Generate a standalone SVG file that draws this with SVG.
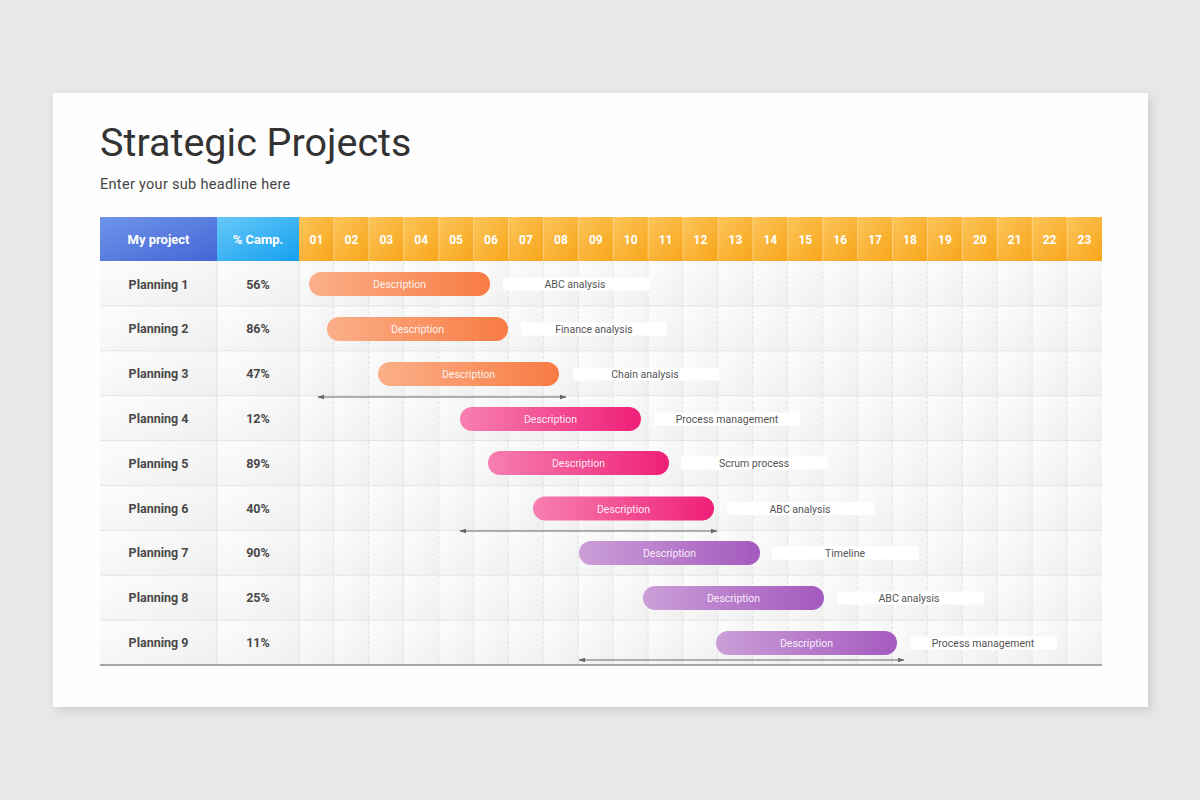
<svg xmlns="http://www.w3.org/2000/svg" width="1200" height="800" viewBox="0 0 1200 800">
<defs>
<linearGradient id="gOr" x1="0" y1="0" x2="1" y2="0"><stop offset="0" stop-color="#fbaf89"/><stop offset="1" stop-color="#f87b43"/></linearGradient>
<linearGradient id="gPk" x1="0" y1="0" x2="1" y2="0"><stop offset="0" stop-color="#f77fb1"/><stop offset="1" stop-color="#ef1f78"/></linearGradient>
<linearGradient id="gPu" x1="0" y1="0" x2="1" y2="0"><stop offset="0" stop-color="#cc9fd8"/><stop offset="1" stop-color="#a459be"/></linearGradient>
<linearGradient id="gBlue" x1="0" y1="0" x2="1" y2="1"><stop offset="0" stop-color="#6f94ea"/><stop offset="1" stop-color="#4466d6"/></linearGradient>
<linearGradient id="gCyan" x1="0" y1="0" x2="1" y2="1"><stop offset="0" stop-color="#66c8f8"/><stop offset="1" stop-color="#15a0ef"/></linearGradient>
<linearGradient id="gDay" x1="0" y1="0" x2="1" y2="1"><stop offset="0" stop-color="#fcc55a"/><stop offset="1" stop-color="#f8a51a"/></linearGradient>
<linearGradient id="gCell" x1="0" y1="0" x2="1" y2="1"><stop offset="0" stop-color="#fdfdfd"/><stop offset="1" stop-color="#efefef"/></linearGradient>
<pattern id="pDay" patternUnits="userSpaceOnUse" x="299" y="217" width="34.913" height="44">
<rect width="34.913" height="44" fill="url(#gDay)"/>
</pattern>
<pattern id="pCell" patternUnits="userSpaceOnUse" x="299" y="261" width="34.913" height="44.889">
<rect width="34.913" height="44.889" fill="url(#gCell)"/>
</pattern>
<pattern id="pLeft1" patternUnits="userSpaceOnUse" x="100" y="261" width="117" height="44.889">
<rect width="117" height="44.889" fill="url(#gCell)"/>
</pattern>
<pattern id="pLeft2" patternUnits="userSpaceOnUse" x="217" y="261" width="82" height="44.889">
<rect width="82" height="44.889" fill="url(#gCell)"/>
</pattern>
<filter id="shadow" x="-5%" y="-5%" width="110%" height="115%">
<feDropShadow dx="3" dy="4" stdDeviation="5" flood-color="#000" flood-opacity="0.12"/>
</filter>
<marker id="arr" viewBox="0 0 10 10" refX="9" refY="5" markerWidth="6" markerHeight="6" orient="auto-start-reverse">
<path d="M0,1.5 L10,5 L0,8.5 z" fill="#666"/>
</marker>
<style>
text{font-family:Roboto,"Liberation Sans",sans-serif}
.hd{fill:#fff;font-size:13px;font-weight:bold;text-anchor:middle}
.day{fill:#fff;font-size:12px;font-weight:bold;text-anchor:middle}
.rl{fill:#484848;font-size:12.5px;font-weight:bold;text-anchor:middle}
.bt{fill:#fff;font-size:10.5px;text-anchor:middle;fill-opacity:0.9}
.lt{fill:#555;font-size:10.5px;text-anchor:middle}
.lb{fill:#fff}
.vl{stroke:#e2e2e2;stroke-width:1;stroke-dasharray:3 2}
.hl{stroke:#e4e4e4;stroke-width:1}
.ar{stroke:#666;stroke-width:1.2;fill:none}
</style>
</defs>
<rect width="1200" height="800" fill="#e9e7e8"/>
<rect x="53" y="93" width="1095" height="614" fill="#fefefe" filter="url(#shadow)"/>
<text x="100" y="156" font-size="39.5" fill="#333">Strategic Projects</text>
<text x="100" y="189" font-size="14.5" letter-spacing="0.3" fill="#444">Enter your sub headline here</text>

<g id="table">
<rect x="100" y="261" width="117" height="404" fill="url(#pLeft1)"/>
<rect x="217" y="261" width="82" height="404" fill="url(#pLeft2)"/>
<rect x="299" y="261" width="803" height="404" fill="url(#pCell)"/>
<rect x="100" y="217" width="117" height="44" fill="url(#gBlue)"/>
<rect x="217" y="217" width="82" height="44" fill="url(#gCyan)"/>
<rect x="299" y="217" width="803" height="44" fill="url(#pDay)"/>
<g class="vl">
<line x1="217" y1="261" x2="217" y2="665" style="stroke-dasharray:none"/>
<line x1="299" y1="261" x2="299" y2="665" style="stroke-dasharray:none"/>
<line x1="333.9" y1="261" x2="333.9" y2="665"/><line x1="368.8" y1="261" x2="368.8" y2="665"/><line x1="403.7" y1="261" x2="403.7" y2="665"/><line x1="438.7" y1="261" x2="438.7" y2="665"/><line x1="473.6" y1="261" x2="473.6" y2="665"/><line x1="508.5" y1="261" x2="508.5" y2="665"/><line x1="543.4" y1="261" x2="543.4" y2="665"/><line x1="578.3" y1="261" x2="578.3" y2="665"/><line x1="613.2" y1="261" x2="613.2" y2="665"/><line x1="648.1" y1="261" x2="648.1" y2="665"/><line x1="683" y1="261" x2="683" y2="665"/><line x1="718" y1="261" x2="718" y2="665"/><line x1="752.9" y1="261" x2="752.9" y2="665"/><line x1="787.8" y1="261" x2="787.8" y2="665"/><line x1="822.7" y1="261" x2="822.7" y2="665"/><line x1="857.6" y1="261" x2="857.6" y2="665"/><line x1="892.5" y1="261" x2="892.5" y2="665"/><line x1="927.4" y1="261" x2="927.4" y2="665"/><line x1="962.3" y1="261" x2="962.3" y2="665"/><line x1="997.3" y1="261" x2="997.3" y2="665"/><line x1="1032.2" y1="261" x2="1032.2" y2="665"/><line x1="1067.1" y1="261" x2="1067.1" y2="665"/>
</g>
<g stroke="#ffffff" stroke-opacity="0.35">
<line x1="333.9" y1="217" x2="333.9" y2="261"/><line x1="368.8" y1="217" x2="368.8" y2="261"/><line x1="403.7" y1="217" x2="403.7" y2="261"/><line x1="438.7" y1="217" x2="438.7" y2="261"/><line x1="473.6" y1="217" x2="473.6" y2="261"/><line x1="508.5" y1="217" x2="508.5" y2="261"/><line x1="543.4" y1="217" x2="543.4" y2="261"/><line x1="578.3" y1="217" x2="578.3" y2="261"/><line x1="613.2" y1="217" x2="613.2" y2="261"/><line x1="648.1" y1="217" x2="648.1" y2="261"/><line x1="683" y1="217" x2="683" y2="261"/><line x1="718" y1="217" x2="718" y2="261"/><line x1="752.9" y1="217" x2="752.9" y2="261"/><line x1="787.8" y1="217" x2="787.8" y2="261"/><line x1="822.7" y1="217" x2="822.7" y2="261"/><line x1="857.6" y1="217" x2="857.6" y2="261"/><line x1="892.5" y1="217" x2="892.5" y2="261"/><line x1="927.4" y1="217" x2="927.4" y2="261"/><line x1="962.3" y1="217" x2="962.3" y2="261"/><line x1="997.3" y1="217" x2="997.3" y2="261"/><line x1="1032.2" y1="217" x2="1032.2" y2="261"/><line x1="1067.1" y1="217" x2="1067.1" y2="261"/>
</g>
<g class="hl">
<line x1="100" y1="305.9" x2="1102" y2="305.9"/><line x1="100" y1="350.8" x2="1102" y2="350.8"/><line x1="100" y1="395.7" x2="1102" y2="395.7"/><line x1="100" y1="440.6" x2="1102" y2="440.6"/><line x1="100" y1="485.4" x2="1102" y2="485.4"/><line x1="100" y1="530.3" x2="1102" y2="530.3"/><line x1="100" y1="575.2" x2="1102" y2="575.2"/><line x1="100" y1="620.1" x2="1102" y2="620.1"/>
</g>
<line x1="100" y1="665" x2="1102" y2="665" stroke="#8a8a8a" stroke-width="1.6"/>
<text class="hd" x="158.5" y="244">My project</text>
<text class="hd" x="258" y="244">% Camp.</text>
<g class="day">
<text x="316.5" y="244">01</text><text x="351.4" y="244">02</text><text x="386.3" y="244">03</text><text x="421.2" y="244">04</text><text x="456.1" y="244">05</text><text x="491" y="244">06</text><text x="525.9" y="244">07</text><text x="560.9" y="244">08</text><text x="595.8" y="244">09</text><text x="630.7" y="244">10</text><text x="665.6" y="244">11</text><text x="700.5" y="244">12</text><text x="735.4" y="244">13</text><text x="770.3" y="244">14</text><text x="805.3" y="244">15</text><text x="840.2" y="244">16</text><text x="875.1" y="244">17</text><text x="910" y="244">18</text><text x="944.9" y="244">19</text><text x="979.8" y="244">20</text><text x="1014.7" y="244">21</text><text x="1049.6" y="244">22</text><text x="1084.5" y="244">23</text>
</g>
</g>

<g id="row1"><text class="rl" x="158.5" y="288.5">Planning 1</text><text class="rl" x="258" y="288.5">56%</text>
<rect x="309" y="272" width="181" height="24" rx="12" fill="url(#gOr)"/><text class="bt" x="399.5" y="288">Description</text>
<rect class="lb" x="503" y="277.5" width="146" height="13"/><text class="lt" x="575" y="288">ABC analysis</text></g>
<g id="row2"><text class="rl" x="158.5" y="333">Planning 2</text><text class="rl" x="258" y="333">86%</text>
<rect x="327" y="317" width="181" height="24" rx="12" fill="url(#gOr)"/><text class="bt" x="417.5" y="333">Description</text>
<rect class="lb" x="521" y="322.5" width="146" height="13"/><text class="lt" x="594" y="333">Finance analysis</text></g>
<g id="row3"><text class="rl" x="158.5" y="378">Planning 3</text><text class="rl" x="258" y="378">47%</text>
<rect x="378" y="362" width="181" height="24" rx="12" fill="url(#gOr)"/><text class="bt" x="468.5" y="378">Description</text>
<rect class="lb" x="573" y="367.5" width="146" height="13"/><text class="lt" x="645" y="378">Chain analysis</text></g>
<g id="row4"><text class="rl" x="158.5" y="422.5">Planning 4</text><text class="rl" x="258" y="422.5">12%</text>
<rect x="460" y="407" width="181" height="24" rx="12" fill="url(#gPk)"/><text class="bt" x="550.5" y="422.5">Description</text>
<rect class="lb" x="654" y="412.5" width="146" height="13"/><text class="lt" x="727" y="422.5">Process management</text></g>
<g id="row5"><text class="rl" x="158.5" y="467.5">Planning 5</text><text class="rl" x="258" y="467.5">89%</text>
<rect x="488" y="451" width="181" height="24" rx="12" fill="url(#gPk)"/><text class="bt" x="578.5" y="467">Description</text>
<rect class="lb" x="681" y="456.5" width="147" height="13"/><text class="lt" x="754" y="467">Scrum process</text></g>
<g id="row6"><text class="rl" x="158.5" y="512.5">Planning 6</text><text class="rl" x="258" y="512.5">40%</text>
<rect x="533" y="496.5" width="181" height="24" rx="12" fill="url(#gPk)"/><text class="bt" x="623.5" y="512.5">Description</text>
<rect class="lb" x="727" y="502" width="147" height="13"/><text class="lt" x="800" y="512.5">ABC analysis</text></g>
<g id="row7"><text class="rl" x="158.5" y="557">Planning 7</text><text class="rl" x="258" y="557">90%</text>
<rect x="579" y="541" width="181" height="24" rx="12" fill="url(#gPu)"/><text class="bt" x="669.5" y="557">Description</text>
<rect class="lb" x="772" y="546.5" width="147" height="13"/><text class="lt" x="845" y="557">Timeline</text></g>
<g id="row8"><text class="rl" x="158.5" y="602">Planning 8</text><text class="rl" x="258" y="602">25%</text>
<rect x="643" y="586" width="181" height="24" rx="12" fill="url(#gPu)"/><text class="bt" x="733.5" y="602">Description</text>
<rect class="lb" x="837" y="591.5" width="147" height="13"/><text class="lt" x="909" y="602">ABC analysis</text></g>
<g id="row9"><text class="rl" x="158.5" y="646.5">Planning 9</text><text class="rl" x="258" y="646.5">11%</text>
<rect x="716" y="631" width="181" height="24" rx="12" fill="url(#gPu)"/><text class="bt" x="806.5" y="647">Description</text>
<rect class="lb" x="910" y="636.5" width="147" height="13"/><text class="lt" x="983" y="647">Process management</text></g>

<g id="connectors">
<line class="ar" x1="318" y1="397" x2="566" y2="397" marker-start="url(#arr)" marker-end="url(#arr)"/>
<line class="ar" x1="460" y1="531" x2="717" y2="531" marker-start="url(#arr)" marker-end="url(#arr)"/>
<line class="ar" x1="579" y1="660" x2="904" y2="660" marker-start="url(#arr)" marker-end="url(#arr)"/>
</g>
</svg>
